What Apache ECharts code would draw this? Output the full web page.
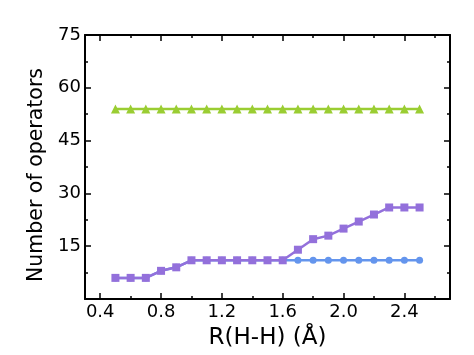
<!DOCTYPE html>
<html>
<head>
<meta charset="utf-8">
<script src="https://cdn.jsdelivr.net/npm/echarts@6/dist/echarts.min.js"></script>
<style>html,body{margin:0;padding:0;background:#fff;}#c{width:474px;height:355px;}</style>
</head>
<body>
<div id="c"></div>
<script>
// Data
const distances = [0.5,0.6,0.7,0.8,0.9,1.0,1.1,1.2,1.3,1.4,1.5,1.6,1.7,1.8,1.9,2.0,2.1,2.2,2.3,2.4,2.5];
const purpleOps = [6,6,6,8,9,11,11,11,11,11,11,11,14,17,18,20,22,24,26,26,26];
const blueOps   = [6,6,6,8,9,11,11,11,11,11,11,11,11,11,11,11,11,11,11,11,11];
const greenOps  = [54,54,54,54,54,54,54,54,54,54,54,54,54,54,54,54,54,54,54,54,54];
const xMajorTicks = [0.4,0.8,1.2,1.6,2.0,2.4];
const xMinorTicks = [0.6,1.0,1.4,1.8,2.2,2.6];
const xTitle = 'R(H-H) (Å)';
const yTitle = 'Number of operators';

const FONT = 'DejaVu Sans';
const pairs = ys => distances.map((x,i)=>[x, ys[i]]);

function xAx(pos, ticks, len, line, labels) {
  return {
    type: 'value', position: pos, min: 0.3, max: 2.7, gridIndex: 0,
    axisLine: {show: line, onZero: false, lineStyle: {color: '#000', width: 2}},
    axisTick: {show: true, inside: true, length: len, customValues: ticks, lineStyle: {color: '#000', width: 1.5}},
    axisLabel: labels ? {show: true, customValues: ticks, margin: 4, color: '#000', fontFamily: FONT, fontSize: 18,
      formatter: v => v.toFixed(1)} : {show: false},
    splitLine: {show: false}
  };
}
function yAx(pos, labels) {
  return {
    type: 'value', position: pos, min: 0, max: 75, interval: 15,
    axisLine: {show: true, onZero: false, lineStyle: {color: '#000', width: 2}},
    axisTick: {show: true, inside: true, length: 6, lineStyle: {color: '#000', width: 1.5}},
    minorTick: {show: true, splitNumber: 2, length: 3, lineStyle: {color: '#000', width: 1.5}},
    axisLabel: labels ? {show: true, margin: 4, color: '#000', fontFamily: FONT, fontSize: 18,
      formatter: v => v === 0 ? '' : String(v)} : {show: false},
    splitLine: {show: false}, minorSplitLine: {show: false}
  };
}

const xBottom = xAx('bottom', xMajorTicks, 6, true, true);
xBottom.name = xTitle; xBottom.nameLocation = 'middle'; xBottom.nameGap = 28;
xBottom.nameTextStyle = {color: '#000', fontFamily: FONT, fontSize: 23};
const yLeft = yAx('left', true);
yLeft.name = yTitle; yLeft.nameLocation = 'middle'; yLeft.nameGap = 33;
yLeft.nameTextStyle = {color: '#000', fontFamily: FONT, fontSize: 20.5, padding: [0, 16, 0, 0]};

const chart = echarts.init(document.getElementById('c'));
chart.setOption({
  animation: false,
  backgroundColor: '#fff',
  grid: {left: 85, right: 24, top: 35, bottom: 54},
  xAxis: [
    xBottom,
    xAx('bottom', xMinorTicks, 3, false, false),
    xAx('top', xMajorTicks, 6, true, false),
    xAx('top', xMinorTicks, 3, false, false)
  ],
  yAxis: [yLeft, yAx('right', false)],
  series: [
    {type: 'line', data: pairs(greenOps), symbol: 'triangle', symbolSize: 9, showAllSymbol: true,
      itemStyle: {color: '#9ACD32'}, lineStyle: {color: '#9ACD32', width: 2.5}},
    {type: 'line', data: pairs(blueOps), symbol: 'circle', symbolSize: 7, showAllSymbol: true,
      itemStyle: {color: '#6495ED'}, lineStyle: {color: '#6495ED', width: 2.5}},
    {type: 'line', data: pairs(purpleOps), symbol: 'rect', symbolSize: 8, showAllSymbol: true,
      itemStyle: {color: '#9370DB'}, lineStyle: {color: '#9370DB', width: 2.5}}
  ]
});
</script>
</body>
</html>
